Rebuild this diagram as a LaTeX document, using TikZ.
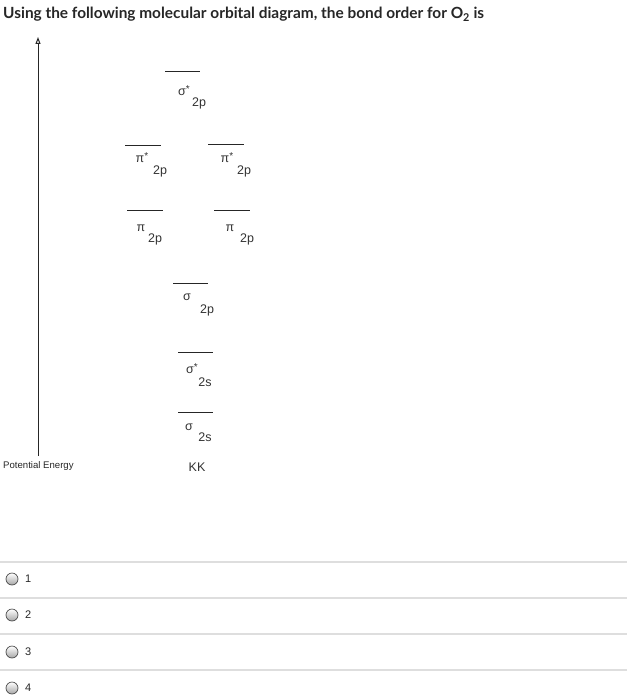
\documentclass[tikz,border=0pt]{standalone}
\usepackage{fontspec}
\setmainfont{Liberation Sans}
\newfontfamily\latofont{Lato}
\usetikzlibrary{arrows.meta}
\newcommand{\starmark}{\raisebox{0.45ex}{\fontsize{10}{10}\selectfont *}}
\tikzset{
  level/.style={line width=1pt, black!85},
  lbl/.style={inner sep=0pt, font=\fontsize{12.5}{13}\selectfont, text=black!80},
  sep/.style={line width=1.5pt, black!13},
  radio/.style={circle, minimum size=12pt, inner sep=0pt, draw=black!70, line width=0.7pt, top color=white, bottom color=black!35},
  opt/.style={inner sep=0pt, anchor=west, font=\fontsize{11}{12}\selectfont, text=black!85},
}
\begin{document}
\begin{tikzpicture}[x=1pt,y=-1pt]
\useasboundingbox (0,0) rectangle (627,700);
% title
\node[anchor=west, inner sep=0pt, font=\latofont\bfseries\fontsize{15.4}{16}\selectfont, text=black!85] (title) at (3,14) {Using the following molecular orbital diagram, the bond order for O\textsubscript{2} is};
% energy axis
\coordinate (ebot) at (38,456);
\coordinate (etop) at (38,37);
\draw[line width=1pt, black!85, -{Triangle[open, length=7pt, width=5pt]}] (ebot) -- (etop);
\node[anchor=west, inner sep=0pt, font=\fontsize{9.6}{10}\selectfont, text=black!85] (pe) at (3,466) {Potential Energy};
% sigma*2p
\coordinate (a1) at (165,72); \coordinate (a2) at (200,72);
\draw[level] (a1) -- (a2);
\node[lbl] (a3) at (184,91) {σ\starmark};
\node[lbl] (a4) at (199,103) {2p};
% pi*2p left
\coordinate (b1) at (125,146); \coordinate (b2) at (161,146);
\draw[level] (b1) -- (b2);
\node[lbl] (b3) at (142,158) {π\starmark};
\node[lbl] (b4) at (160,171) {2p};
% pi*2p right
\coordinate (c1) at (208,145); \coordinate (c2) at (244,145);
\draw[level] (c1) -- (c2);
\node[lbl] (c3) at (227,158) {π\starmark};
\node[lbl] (c4) at (244,171) {2p};
% pi2p left
\coordinate (d1) at (127,211); \coordinate (d2) at (163,211);
\draw[level] (d1) -- (d2);
\node[lbl] (d3) at (141,228) {π};
\node[lbl] (d4) at (155,239) {2p};
% pi2p right
\coordinate (e1) at (214,211); \coordinate (e2) at (250,211);
\draw[level] (e1) -- (e2);
\node[lbl] (e3) at (230,228) {π};
\node[lbl] (e4) at (247,239) {2p};
% sigma2p
\coordinate (f1) at (173,283); \coordinate (f2) at (208,283);
\draw[level] (f1) -- (f2);
\node[lbl] (f3) at (187,297) {σ};
\node[lbl] (f4) at (207,310) {2p};
% sigma*2s
\coordinate (g1) at (178,352); \coordinate (g2) at (213,352);
\draw[level] (g1) -- (g2);
\node[lbl] (g3) at (192,369) {σ\starmark};
\node[lbl] (g4) at (205,382) {2s};
% sigma2s
\coordinate (h1) at (178,412); \coordinate (h2) at (213,412);
\draw[level] (h1) -- (h2);
\node[lbl] (h3) at (189,427) {σ};
\node[lbl] (h4) at (205,437) {2s};
% KK
\node[lbl] (kk) at (197,467) {KK};
% answer options
\foreach \y in {562,598,634,670} {
  \draw[sep] (0,\y) -- (627,\y);
}
\node[radio] (r1) at (12,579) {}; \node[opt] (o1) at (25,579) {1};
\node[radio] (r2) at (12,615) {}; \node[opt] (o2) at (25,615) {2};
\node[radio] (r3) at (12,652) {}; \node[opt] (o3) at (25,652) {3};
\node[radio] (r4) at (12,688) {}; \node[opt] (o4) at (25,688) {4};
\end{tikzpicture}
\end{document}
